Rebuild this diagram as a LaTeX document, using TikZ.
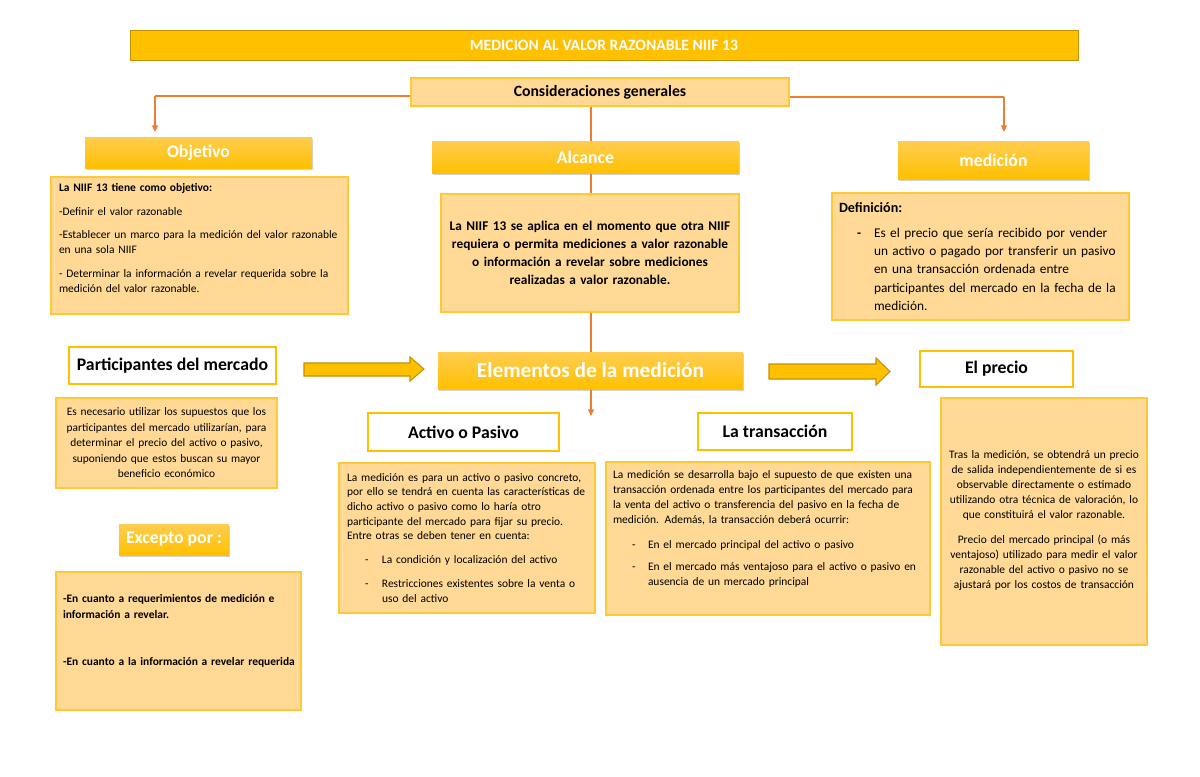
\documentclass[tikz,border=0pt]{standalone}
\usepackage{fontspec}
\setmainfont{Carlito}
\usetikzlibrary{shadows,calc,arrows.meta,backgrounds}
\definecolor{gold}{HTML}{FFC000}
\definecolor{goldtop}{HTML}{FFCD50}
\definecolor{golddark}{HTML}{C39200}
\definecolor{lightfill}{HTML}{FFD995}
\definecolor{lightline}{HTML}{FFC936}
\definecolor{connc}{HTML}{ED7D31}
\newcommand\bodyfont{\fontsize{8.6}{11.25}\selectfont}
\newcommand\nobreakfit{\rightskip=0pt plus 1fil minus 25pt\hyphenpenalty=10000\relax}
\newcommand\dashitem[2]{\noindent\llap{\makebox[#1][l]{-}}#2}
\tikzset{
  every node/.style={inner sep=0pt, outer sep=0pt, execute at begin node={\setlength\parindent{0pt}}},
  titlebar/.style={rectangle, fill=gold, draw=golddark, line width=0.6pt, text=white, font=\bfseries\fontsize{11.8}{13}\selectfont},
  headbox/.style={rectangle, top color=goldtop, bottom color=gold, draw=none,
     drop shadow={opacity=0.35, shadow xshift=0.8pt, shadow yshift=-1.2pt},
     text=white, font=\bfseries\fontsize{13.3}{15}\selectfont},
  lightbox/.style={rectangle, fill=lightfill, draw=lightline, line width=0.8pt, text=black},
  whitebox/.style={rectangle, fill=white, draw=gold, line width=0.9pt, text=black, font=\bfseries\fontsize{13.3}{15}\selectfont},
  thickconn/.style={draw=connc, line width=1.4pt},
  arrowconn/.style={draw=connc, line width=0.9pt, -{Triangle[width=4.5pt,length=5pt]}},
  blockarrow/.style={fill=gold, draw=golddark, line width=0.8pt},
}
\begin{document}
\begin{tikzpicture}[x=0.75pt,y=-0.75pt]
\useasboundingbox (0,0) rectangle (1200,776);

% title and top box
\node[titlebar, minimum width=711pt, minimum height=22.5pt] (title) at (604,45) {MEDICION AL VALOR RAZONABLE NIIF 13};
\node[lightbox, minimum width=283.5pt, minimum height=21pt, font=\bfseries\fontsize{11.8}{13}\selectfont] (cons) at (600,92) {Consideraciones generales};

% orange headings
\node[headbox, minimum width=170.25pt, minimum height=23.25pt] (objh) at (198.5,152.5) {Objetivo};
\node[headbox, minimum width=230.25pt, minimum height=24pt] (alch) at (585.5,157) {Alcance};
\node[headbox, minimum width=143.25pt, minimum height=28.5pt] (medh) at (993.5,160) {medición};
\node[headbox, minimum width=228.75pt, minimum height=27.75pt, font=\bfseries\fontsize{16}{18}\selectfont] (elem) at (590.5,370.5) {Elementos de la medición};
\node[headbox, minimum width=82.5pt, minimum height=23.25pt] (exch) at (174,539.5) {Excepto por :};

% white headings
\node[whitebox, minimum width=155.25pt, minimum height=27.75pt] (part) at (172.5,365.5) {Participantes del mercado};
\node[whitebox, minimum width=143.25pt, minimum height=28.5pt] (act) at (463.5,432) {Activo o Pasivo};
\node[whitebox, minimum width=115.5pt, minimum height=27.75pt] (trans) at (775,431.5) {La transacción};
\node[whitebox, minimum width=114.75pt, minimum height=27pt] (precio) at (996.5,369) {El precio};

% text boxes
\node[lightbox, minimum width=222.75pt, minimum height=102.75pt, text width=210.75pt, inner xsep=6pt, align=left, font=\bodyfont] (objtxt) at (199.5,245.5)
 {\nobreakfit\setlength\parskip{6.4pt}\textbf{La NIIF 13 tiene como objetivo:}\par
  -Definir el valor razonable\par
  -Establecer un marco para la medición del valor razonable\\ en una sola NIIF\par
  - Determinar la información a revelar requerida sobre la\\ medición del valor razonable.\par\vspace*{11.25pt}};

\node[lightbox, minimum width=223.5pt, minimum height=88.5pt, text width=220pt, align=center, font=\bfseries\fontsize{10}{13.5}\selectfont] (alctxt) at (590,253)
 {La NIIF 13 se aplica en el momento que otra NIIF\\ requiera o permita mediciones a valor razonable\\ o información a revelar sobre mediciones\\ realizadas a valor razonable.};

\node[lightbox, minimum width=222.75pt, minimum height=95.25pt, text width=212.25pt, inner xsep=5.25pt, align=left] (deftxt) at (980.5,256.5)
 {\nobreakfit{\fontsize{10.6}{13}\selectfont\bfseries Definición:\par}\vspace{5pt}
  {\fontsize{10}{13.7}\selectfont\leftskip=26.25pt\noindent\llap{\makebox[12.75pt][l]{\textbf{-}}}Es el precio que sería recibido por vender\\ un activo o pagado por transferir un pasivo\\ en una transacción ordenada entre\\ participantes del mercado en la fecha de la\\ medición.\par}};

\node[lightbox, minimum width=165.75pt, minimum height=67.5pt, text width=160pt, align=center, font=\fontsize{8.55}{11.6}\selectfont] (parttxt) at (166.5,443)
 {Es necesario utilizar los supuestos que los\\ participantes del mercado utilizarían, para\\ determinar el precio del activo o pasivo,\\ suponiendo que estos buscan su mayor\\ beneficio económico};

\node[lightbox, minimum width=183.75pt, minimum height=103.5pt, text width=173.25pt, inner xsep=5.25pt, align=left, font=\bfseries\fontsize{8.6}{12}\selectfont] (exctxt) at (178.5,641)
 {\nobreakfit-En cuanto a requerimientos de medición e\\ información a revelar.\\[23.25pt]-En cuanto a la información a revelar requerida\par\vspace*{15.75pt}};

\node[lightbox, minimum width=192pt, minimum height=112.5pt, text width=180pt, inner xsep=6pt, align=left, font=\fontsize{8.6}{11}\selectfont] (acttxt) at (467,538)
 {\nobreakfit La medición es para un activo o pasivo concreto,\\ por ello se tendrá en cuenta las características de\\ dicho activo o pasivo como lo haría otro\\ participante del mercado para fijar su precio.\\ Entre otras se deben tener en cuenta:\par\vspace{7pt}
  {\leftskip=26.25pt\dashitem{12.75pt}{La condición y localización del activo}\par}\vspace{7pt}
  {\leftskip=26.25pt\dashitem{12.75pt}{Restricciones existentes sobre la venta o\\ uso del activo}\par}};

\node[lightbox, minimum width=243pt, minimum height=114.75pt, text width=232.5pt, inner xsep=5.25pt, align=left, font=\bodyfont] (trtxt) at (768,538.5)
 {\nobreakfit La medición se desarrolla bajo el supuesto de que existen una\\ transacción ordenada entre los participantes del mercado para\\ la venta del activo o transferencia del pasivo en la fecha de\\ medición. Además, la transacción deberá ocurrir:\par\vspace{7.5pt}
  {\leftskip=26.25pt\dashitem{12pt}{En el mercado principal del activo o pasivo}\par}\vspace{5.75pt}
  {\leftskip=26.25pt\dashitem{12pt}{En el mercado más ventajoso para el activo o pasivo en\\ ausencia de un mercado principal}\par}\vspace*{14.25pt}};

\node[lightbox, minimum width=154.5pt, minimum height=185.25pt, text width=150pt, align=center, font=\bodyfont] (pretxt) at (1044,521.5)
 {Tras la medición, se obtendrá un precio\\ de salida independientemente de si es\\ observable directamente o estimado\\ utilizando otra técnica de valoración, lo\\ que constituirá el valor razonable.\par\vspace{7.5pt}
  Precio del mercado principal (o más\\ ventajoso) utilizado para medir el valor\\ razonable del activo o pasivo no se\\ ajustará por los costos de transacción\par\vspace*{2pt}};

% block arrows
\draw[blockarrow] (304,363) -- (410,363) -- (410,357) -- (424,369) -- (410,381) -- (410,376) -- (304,376) -- cycle;
\draw[blockarrow] (769,364) -- (876,364) -- (876,358) -- (890,371.5) -- (876,385) -- (876,379) -- (769,379) -- cycle;

% connectors
\begin{scope}[on background layer]
\coordinate (lc) at (155,96);
\coordinate (lt) at (155,132);
\coordinate (rc) at (1004,97);
\coordinate (rt) at (1004,132);
\coordinate (ct) at (591,416);
\draw[thickconn] (cons.west |- lc) -- (lc);
\draw[arrowconn] (lc) -- (lt);
\draw[thickconn] (cons.east |- rc) -- (rc);
\draw[arrowconn] (rc) -- (rt);
\draw[arrowconn] (cons.south -| ct) -- (ct);
\end{scope}
\end{tikzpicture}
\end{document}
